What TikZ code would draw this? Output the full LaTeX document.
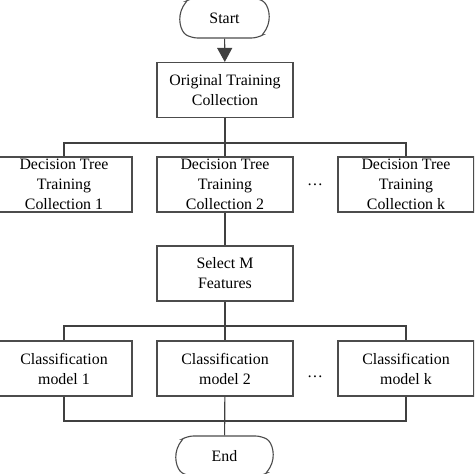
\documentclass[tikz,border=0pt]{standalone}
\usepackage{fontspec}
\setmainfont{Liberation Serif}
\usetikzlibrary{arrows.meta,shapes.misc}

\begin{document}
\begin{tikzpicture}[x=0.25mm,y=-0.25mm,
    every node/.style={font=\fontsize{11.3}{14.2}\selectfont},
    box/.style={draw=black!70,line width=0.8pt,minimum width=34mm,minimum height=13.75mm,align=center,inner sep=0pt},
    term/.style={draw=black!70,line width=0.8pt,rounded rectangle,rounded rectangle arc length=120,rounded corners=1.5mm,minimum height=10mm,inner sep=0pt},
    link/.style={draw=black!75,line width=0.8pt}]
      \useasboundingbox (0,0) rectangle (474,474);
      \clip (0,0) rectangle (474,474);
      \node[term,minimum width=22.25mm] (start) at (224.5,18) {Start};
      \node[box] (orig) at (225,90) {Original Training\\Collection};
      \node[box] (dt1) at (64,184.5) {Decision Tree\\Training\\Collection 1};
      \node[box] (dt2) at (225,184.5) {Decision Tree\\Training\\Collection 2};
      \node[box] (dtk) at (406,184.5) {Decision Tree\\Training\\Collection k};
      \node (dots1) at (315,185) {\dots};
      \node[box] (sel) at (225,273.5) {Select M\\Features};
      \node[box] (cm1) at (64,368.5) {Classification\\model 1};
      \node[box] (cm2) at (225,368.5) {Classification\\model 2};
      \node[box] (cmk) at (406,368.5) {Classification\\model k};
      \node (dots2) at (315,377) {\dots};
      \node[term,minimum width=24.25mm] (end) at (224.5,456) {End};
      \coordinate (bus1) at (225,143);
      \coordinate (bus2) at (225,326);
      \coordinate (bus3) at (225,421);
      \draw[link,-{Triangle[length=3.5mm,width=3.75mm]}] (start) -- (orig);
      \draw[link] (orig) -- (bus1);
      \draw[link] (dt1.north) |- (bus1) -| (dtk.north);
      \draw[link] (bus1) -- (dt2);
      \draw[link] (dt2) -- (sel);
      \draw[link] (sel) -- (bus2);
      \draw[link] (cm1.north) |- (bus2) -| (cmk.north);
      \draw[link] (bus2) -- (cm2);
      \draw[link] (cm1.south) |- (bus3) -| (cmk.south);
      \draw[link] (cm2) -- (end);
    \end{tikzpicture}
\end{document}
